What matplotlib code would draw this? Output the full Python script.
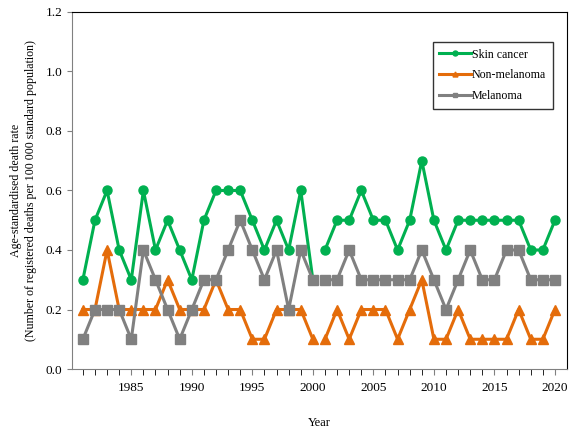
import matplotlib
matplotlib.use("Agg")
import matplotlib.pyplot as plt
import numpy as np

plt.rcParams['font.family'] = ['Liberation Serif', 'DejaVu Serif']

years = np.arange(1981, 2021)

skin_cancer = [0.3, 0.5, 0.6, 0.4, 0.3, 0.6, 0.4, 0.5, 0.4, 0.3,
               0.5, 0.6, 0.6, 0.6, 0.5, 0.4, 0.5, 0.4, 0.6, 0.3,
               0.4, 0.5, 0.5, 0.6, 0.5, 0.5, 0.4, 0.5, 0.7, 0.5,
               0.4, 0.5, 0.5, 0.5, 0.5, 0.5, 0.5, 0.4, 0.4, 0.5]
non_melanoma = [0.2, 0.2, 0.4, 0.2, 0.2, 0.2, 0.2, 0.3, 0.2, 0.2,
                0.2, 0.3, 0.2, 0.2, 0.1, 0.1, 0.2, 0.2, 0.2, 0.1,
                0.1, 0.2, 0.1, 0.2, 0.2, 0.2, 0.1, 0.2, 0.3, 0.1,
                0.1, 0.2, 0.1, 0.1, 0.1, 0.1, 0.2, 0.1, 0.1, 0.2]
melanoma = [0.1, 0.2, 0.2, 0.2, 0.1, 0.4, 0.3, 0.2, 0.1, 0.2,
            0.3, 0.3, 0.4, 0.5, 0.4, 0.3, 0.4, 0.2, 0.4, 0.3,
            0.3, 0.3, 0.4, 0.3, 0.3, 0.3, 0.3, 0.3, 0.4, 0.3,
            0.2, 0.3, 0.4, 0.3, 0.3, 0.4, 0.4, 0.3, 0.3, 0.3]

# the series break between 2000 and 2001
break_year = 2000

series = [
    ("Skin cancer", skin_cancer, "#00B050", "o"),
    ("Non-melanoma", non_melanoma, "#E46C0A", "^"),
    ("Melanoma", melanoma, "#808080", "s"),
]

fig = plt.figure(figsize=(5.88, 4.43), dpi=100)
ax = fig.add_axes([0.1224, 0.167, 0.842, 0.806])

for name, vals, color, marker in series:
    vals = np.array(vals)
    first = years <= break_year
    second = years > break_year
    ax.plot(years[first], vals[first], color=color, marker=marker, lw=2.2,
            ms=6.5, markeredgecolor=color, label=name)
    ax.plot(years[second], vals[second], color=color, marker=marker, lw=2.2,
            ms=6.5, markeredgecolor=color)

ax.set_xlim(1980.1, 2021)
ax.set_ylim(0, 1.2)
ax.set_yticks(np.arange(0, 1.21, 0.2))
ax.set_yticklabels([f"{v:.1f}" for v in np.arange(0, 1.21, 0.2)])
ax.set_xticks(np.arange(1985, 2021, 5))
ax.set_xticks(years, minor=True)
ax.tick_params(axis='both', direction='out', labelsize=9.5, color='#808080')
ax.tick_params(axis='x', which='both', length=4, pad=5)
ax.tick_params(axis='x', which='minor', length=4)

for side in ['left', 'bottom']:
    ax.spines[side].set_color('#808080')
for side in ['top', 'right']:
    ax.spines[side].set_color('black')

ax.set_xlabel("Year", fontsize=9, labelpad=17)
ax.set_ylabel("Age-standardised death rate\n(Number of registered deaths per 100 000 standard population)",
              fontsize=8.6, labelpad=6, linespacing=1.4)

leg = ax.legend(loc='upper left', bbox_to_anchor=(0.729, 0.916), borderaxespad=0,
                fontsize=8.6, frameon=True, fancybox=False, edgecolor='black',
                handlelength=2.6, markerscale=0.55, borderpad=0.55, labelspacing=0.75,
                handletextpad=0.1)
leg.get_frame().set_linewidth(1.0)

fig.savefig("out.png", dpi=100)
